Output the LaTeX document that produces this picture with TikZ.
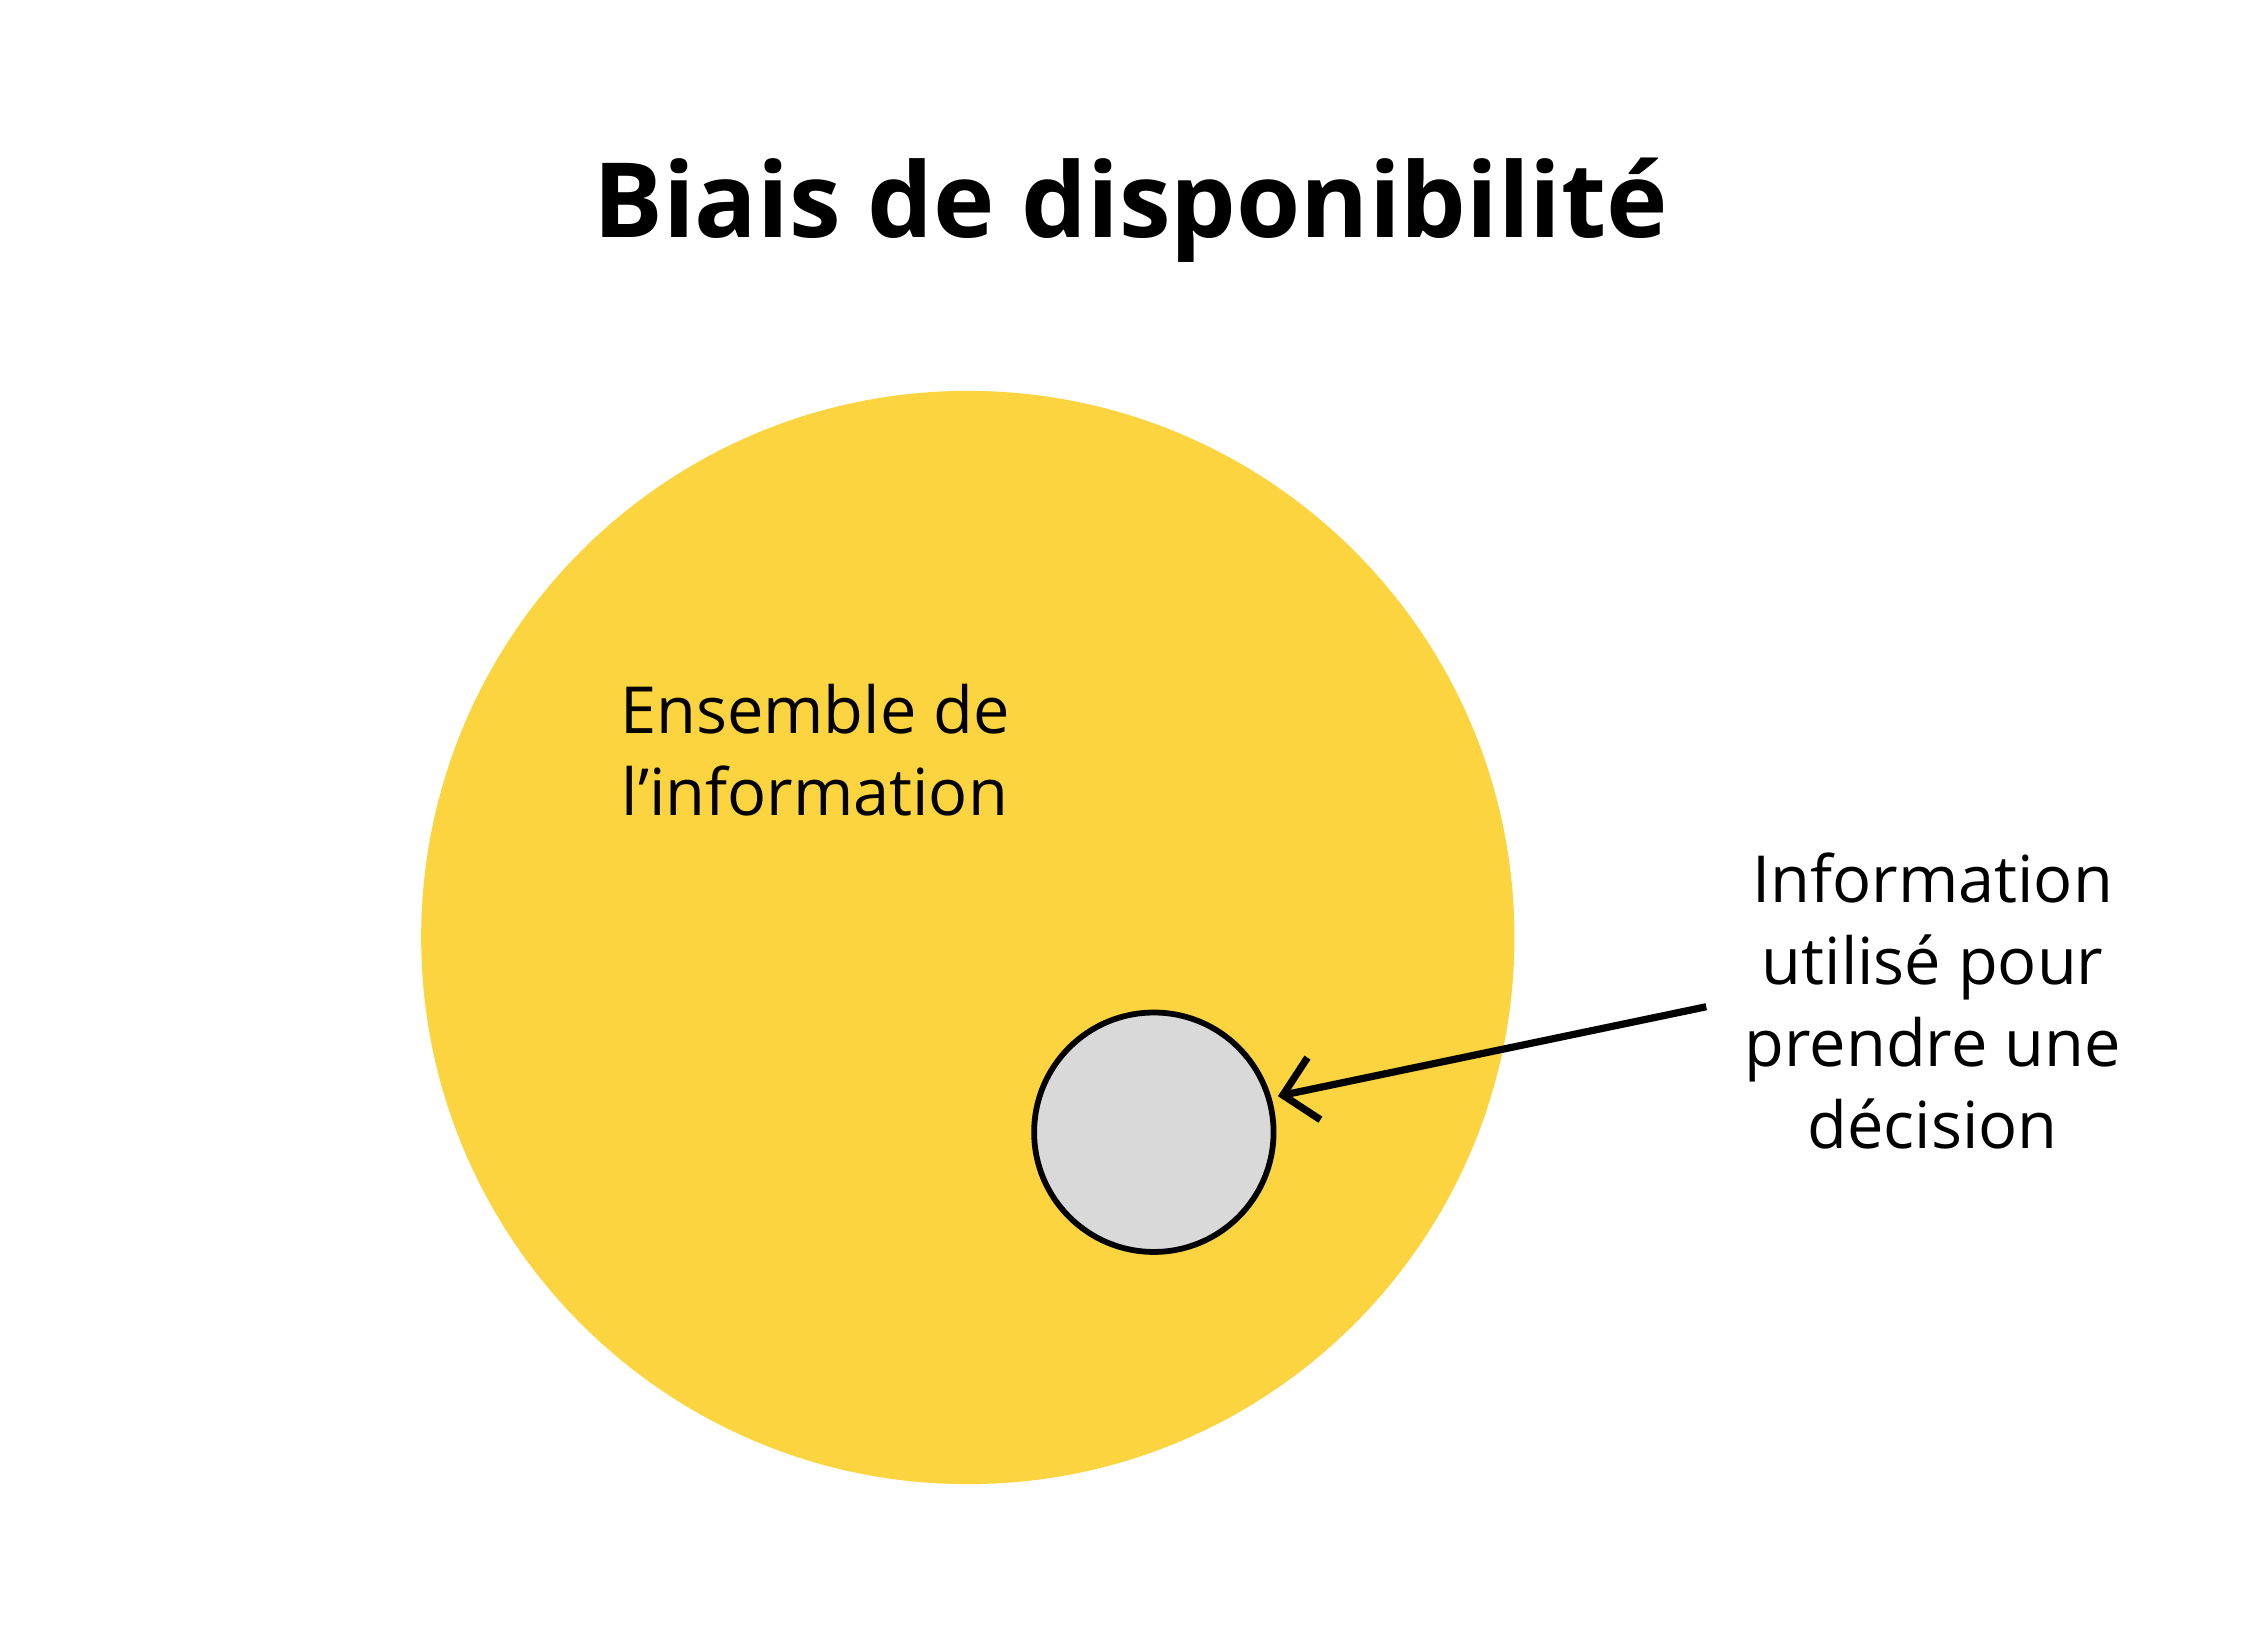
\documentclass[tikz,border=0pt]{standalone}
\usepackage{fontspec}
\setmainfont{Open Sans}
\usetikzlibrary{arrows.meta}
\definecolor{yel}{HTML}{FCD43F}
\definecolor{gry}{HTML}{D9D9D9}
\tikzset{lbl/.style={align=center,font=\fontsize{45}{57}\selectfont}}
\begin{document}
\begin{tikzpicture}[x=1pt,y=-1pt]
\useasboundingbox[fill=white] (0,0) rectangle (1560,1130);
\node[font=\fontsize{72}{80}\selectfont\bfseries] (title) at (784,146) {Biais de disponibilité};
\node[circle,fill=yel,minimum size=758pt,inner sep=0] (big) at (671,650) {};
\node[circle,fill=gry,draw=black,line width=4pt,minimum size=166pt,inner sep=0] (small) at (800,785) {};
\node[lbl] (ens) at (565,520) {Ensemble de\\l’information};
\node[lbl] (info) at (1340,694) {Information\\utilisé pour\\prendre une\\décision};
\coordinate (s) at (1183,698);
\coordinate (e) at (886,760);
\draw[line width=5pt,-{Straight Barb[length=22pt,width=44pt,line width=5pt]}] (s) -- (e);
\end{tikzpicture}
\end{document}
